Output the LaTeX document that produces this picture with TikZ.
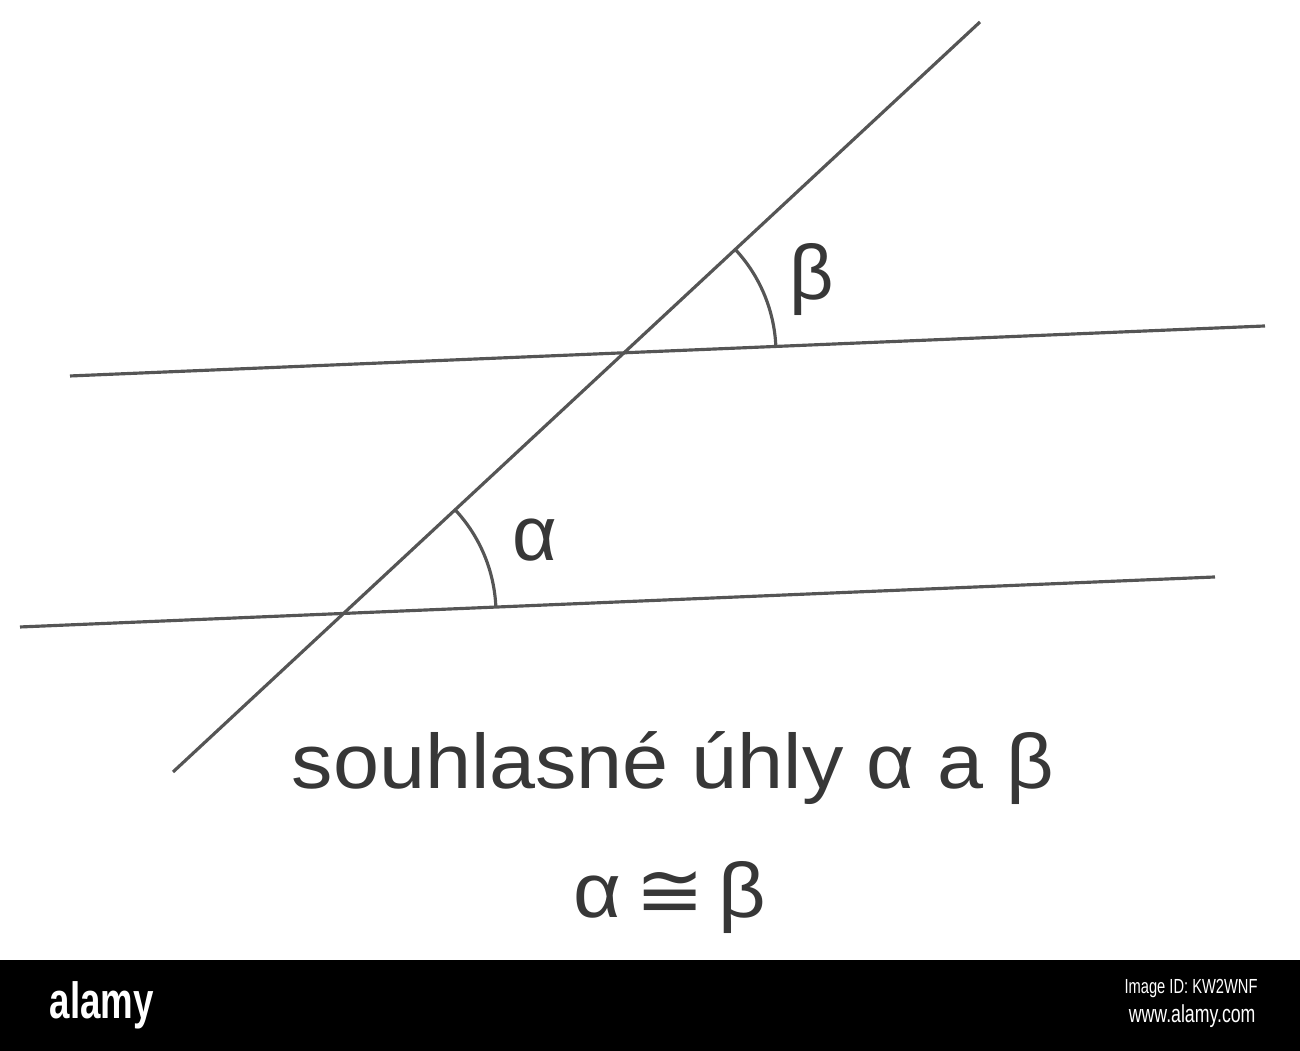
\documentclass[tikz,border=0pt]{standalone}
\usepackage{fontspec}
\setmainfont{Liberation Sans}
\newfontfamily\symfont{DejaVu Sans}
\usetikzlibrary{calc}
\definecolor{lineGray}{RGB}{85,85,85}
\definecolor{textGray}{RGB}{55,55,55}
\tikzset{
    geo/.style={draw=lineGray, line width=0.9pt},
    lbl/.style={text=textGray, font=\fontsize{22}{26}\selectfont, inner sep=0pt},
    logo/.style={text=white, inner sep=0pt}
}
\begin{document}
\begin{tikzpicture}[x=0.1mm, y=0.1mm]
        \useasboundingbox (0, 0) rectangle (1300, 1051);
        % lines
        \coordinate (a1) at (70, 675);
        \coordinate (a2) at (1265, 725);
        \coordinate (b1) at (20, 424);
        \coordinate (b2) at (1215, 474);
        \coordinate (t1) at (173, 279);
        \coordinate (t2) at (980, 1029);
        \coordinate (P) at (624, 698);
        \coordinate (Q) at (344, 437.5);
        \draw[geo] (a1) -- (a2);
        \draw[geo] (b1) -- (b2);
        \draw[geo] (t1) -- (t2);
        % angles
        \draw[geo] ($(P)+(2.4:152)$) arc[start angle=2.4, end angle=42.9, radius=152];
        \draw[geo] ($(Q)+(2.4:152)$) arc[start angle=2.4, end angle=42.9, radius=152];
        \node[lbl] (beta) at (812, 771) {β};
        \node[lbl] (alpha) at (535, 511) {α};
        % caption
        \node[lbl, xscale=1.07] (capA) at (673, 283) {souhlasné úhly α a β};
        \node[lbl, xscale=1.07] (capB) at (670, 153) {α\,{\symfont ≅}\,β};
        % bar
        \fill[black] (0, 0) rectangle (1300, 91);
        \node[logo, font=\bfseries\fontsize{14.5}{15}\selectfont, xscale=0.72] (logo) at (102, 46) {alamy};
        \node[logo, font=\fontsize{5.8}{6}\selectfont, xscale=0.72, anchor=east] (imgid) at (1258, 62) {Image ID: KW2WNF};
        \node[logo, font=\fontsize{7}{7}\selectfont, xscale=0.72, anchor=east] (site) at (1256, 35) {www.alamy.com};
\end{tikzpicture}
\end{document}
